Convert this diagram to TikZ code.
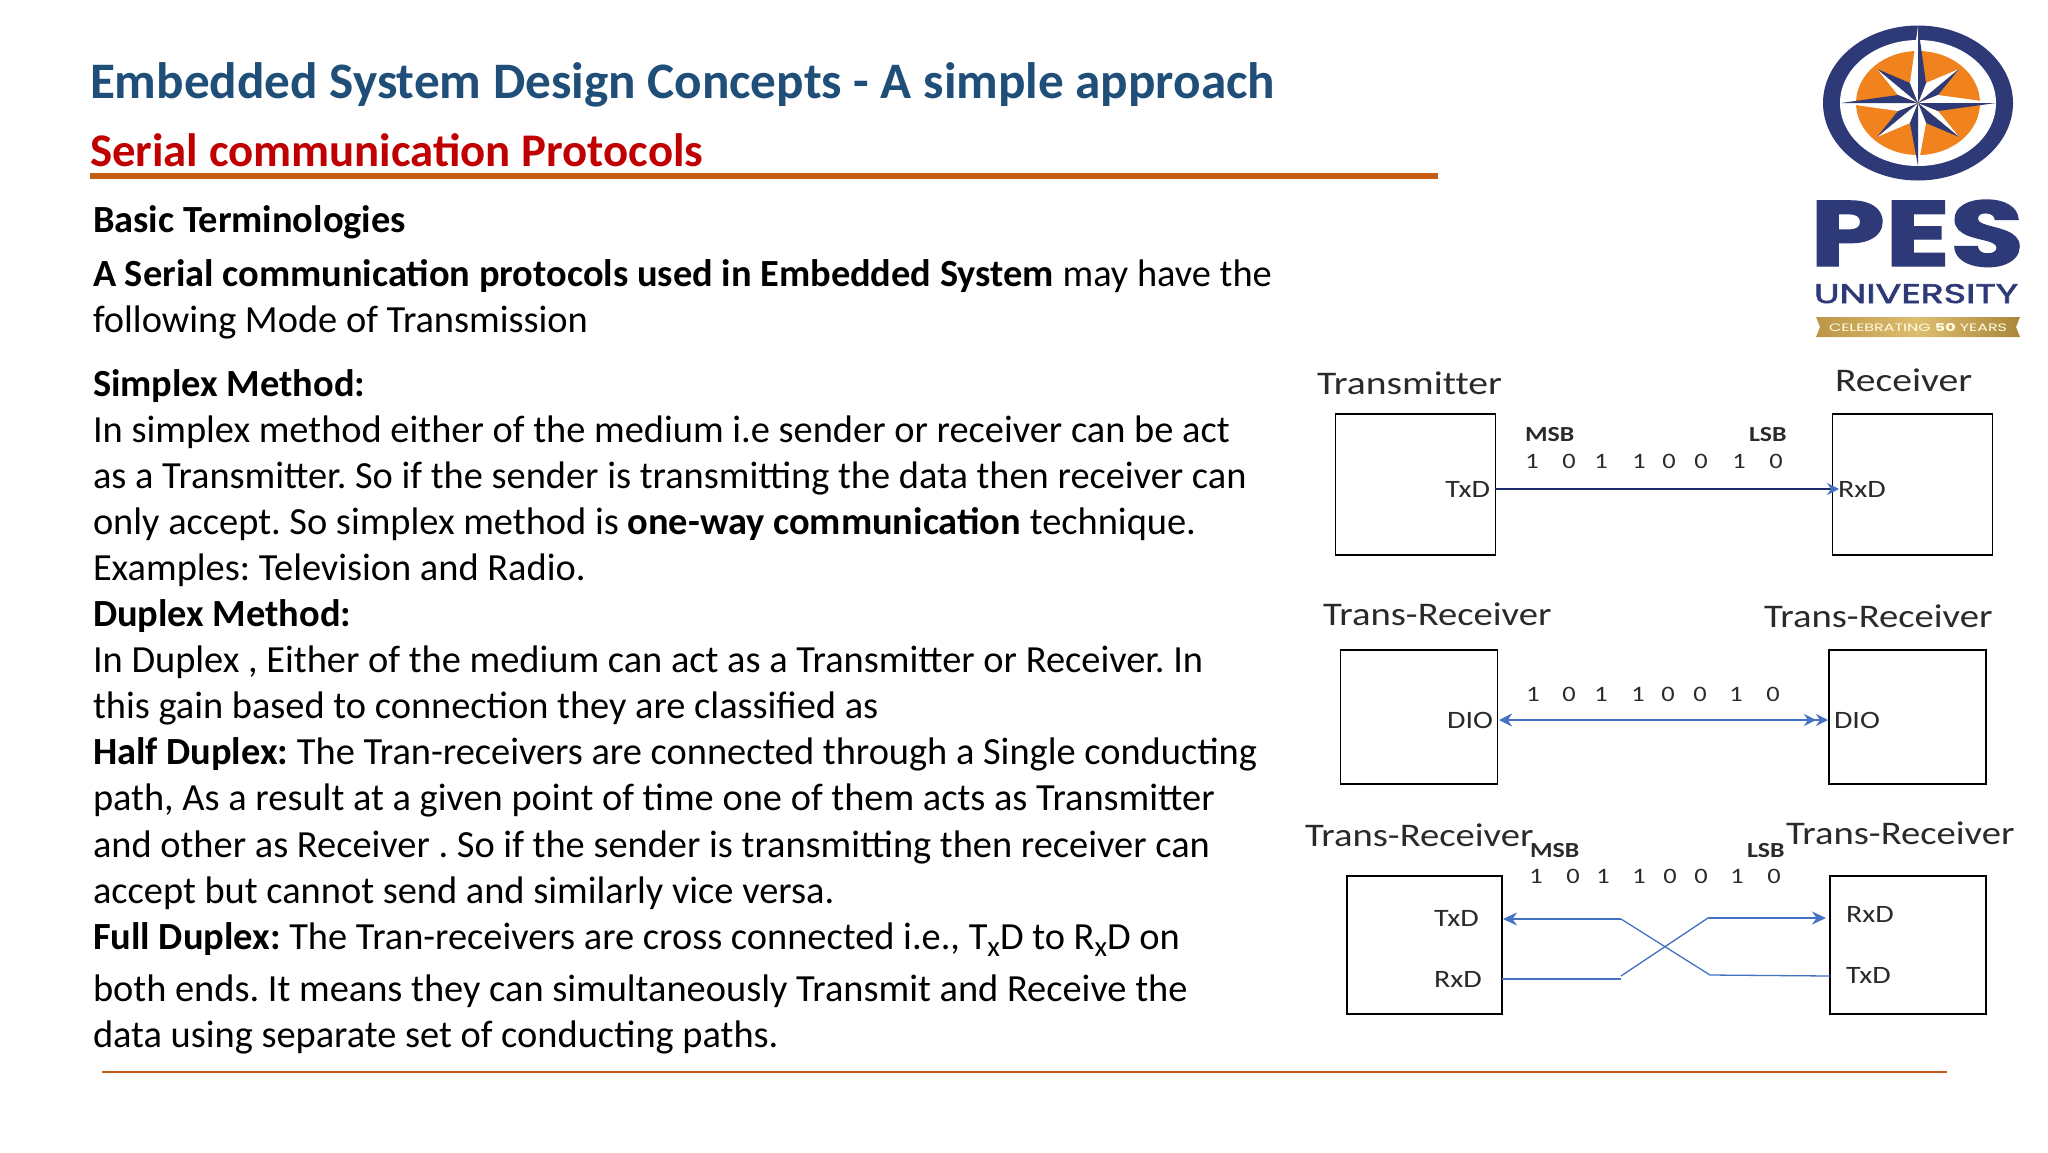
\documentclass[tikz,border=0pt]{standalone}
\usepackage{fontspec}
\usepackage{graphicx}
\usetikzlibrary{arrows.meta}
\setmainfont{Carlito}
\newfontfamily\diafont[Ligatures=NoCommon,FakeStretch=1.17]{Carlito}
\newfontfamily\diawide[Ligatures=NoCommon,FakeStretch=1.2]{Carlito}
\newfontfamily\pesfont[FakeBold=1.5]{Poppins}
\newfontfamily\uniifont[FakeBold=2]{Poppins}
\newfontfamily\celfont{Poppins}
\frenchspacing
\definecolor{titleblue}{HTML}{1F4E79}
\definecolor{subred}{HTML}{C00000}
\definecolor{rulebrown}{HTML}{C55A11}
\definecolor{navy}{HTML}{2E3A78}
\definecolor{wireblue}{HTML}{4472C4}
\definecolor{wirenavy}{HTML}{1F2A6B}
\definecolor{logoorange}{HTML}{F0831E}
\definecolor{inkgrey}{HTML}{2A2A2A}
\definecolor{goldl}{HTML}{BC9648}
\definecolor{goldm}{HTML}{DDBD70}
\definecolor{goldr}{HTML}{A98739}
\newcommand{\fs}[1]{\fontsize{#1}{#1}\selectfont}
\newcommand{\subx}{\raisebox{-7pt}{\fs{29}x}}
\tikzset{
  line/.style={anchor=base west,inner sep=0pt,outer sep=0pt,font=\fs{38.4},text=black},
  box/.style={draw=black,line width=1.5pt,inner sep=0pt,outer sep=0pt,fill=white},
  dlabel/.style={inner sep=0pt,outer sep=0pt,text=inkgrey,font=\diafont\fs{33}},
  dwide/.style={inner sep=0pt,outer sep=0pt,text=inkgrey,font=\diawide\fs{33}},
  port/.style={inner sep=0pt,outer sep=0pt,text=inkgrey,font=\diawide\fs{25}},
  digit/.style={inner sep=0pt,outer sep=0pt,anchor=base,text=inkgrey,font=\diawide\fs{22}},
  sb/.style={inner sep=0pt,outer sep=0pt,anchor=base west,text=inkgrey,font=\diawide\bfseries\fs{21.5}},
  wire/.style={draw=wireblue,line width=1.3pt},
  wirebold/.style={draw=wireblue,line width=2pt},
}
\begin{document}
\begin{tikzpicture}[x=1pt,y=-1pt]
\useasboundingbox (0,0) rectangle (2048,1152);
\fill[white] (0,0) rectangle (2048,1152);
% headings
\node[line,font=\bfseries\fs{51.2},text=titleblue] (title) at (90,98) {Embedded System Design Concepts - A simple approach};
\node[line,font=\bfseries\fs{46.8},text=subred] (sub) at (90,166.5) {Serial communication Protocols};
\fill[rulebrown] (90,173) rectangle (1438,179);
\fill[rulebrown] (102,1071) rectangle (1947,1073);
% body
\node[line,font=\bfseries\fs{38.4}] (l1) at (93,232.5) {Basic Terminologies};
\node[line] (l2) at (93,286.5) {\textbf{A Serial communication protocols used in Embedded System} may have the};
\node[line] (l3) at (93,332.5) {following Mode of Transmission};
\node[line] (l4) at (93,396.5) {\textbf{Simplex Method:}};
\node[line] (l5) at (93,442.5) {In simplex method either of the medium i.e sender or receiver can be act};
\node[line] (l6) at (93,488.5) {as a Transmitter. So if the sender is transmitting the data then receiver can};
\node[line] (l7) at (93,534.5) {only accept. So simplex method is \textbf{one-way communication} technique.};
\node[line] (l8) at (93,580.5) {Examples: Television and Radio.};
\node[line] (l9) at (93,626.5) {\textbf{Duplex Method:}};
\node[line] (l10) at (93,672.5) {In Duplex , Either of the medium can act as a Transmitter or Receiver. In};
\node[line] (l11) at (93,718.5) {this gain based to connection they are classified as};
\node[line] (l12) at (93,764.5) {\textbf{Half Duplex:} The Tran-receivers are connected through a Single conducting};
\node[line] (l13) at (93,810.5) {path, As a result at a given point of time one of them acts as Transmitter};
\node[line] (l14) at (93,857) {and other as Receiver . So if the sender is transmitting then receiver can};
\node[line] (l15) at (93,903) {accept but cannot send and similarly vice versa.};
\node[line] (l16) at (93,949.5) {\textbf{Full Duplex:} The Tran-receivers are cross connected i.e., T\subx D to R\subx D on};
\node[line] (l17) at (93,1001) {both ends. It means they can simultaneously Transmit and Receive the};
\node[line] (l18) at (93,1047) {data using separate set of conducting paths.};
% logo
\fill[navy] (1918,103) ellipse [x radius=95,y radius=77.5];
\fill[white] (1918,103) ellipse [x radius=78,y radius=63];
\fill[logoorange] (1918,103) ellipse [x radius=62,y radius=52];
\begin{scope}[shift={(1918,103)}]
\foreach \tx/\ty/\lx/\ly/\rx/\ry in {41/-34/8/-20/20/-8, 41/34/20/8/8/20, -41/34/-8/20/-20/8, -41/-34/-20/-8/-8/-20,
  0/-77/-8/-20/8/-20, 78/0/20/-8/20/8, 0/63/8/20/-8/20, -77/0/-20/8/-20/-8}{
  \fill[white] (0,0) -- (\lx,\ly) -- (\tx,\ty) -- cycle;
  \fill[navy] (0,0) -- (\rx,\ry) -- (\tx,\ty) -- cycle;
}
\fill[gray] (0,0) circle (2);
\end{scope}
\node[inner sep=0pt,outer sep=0pt,anchor=north west,text=navy] (pes) at (1810,200) {\resizebox{214pt}{66pt}{\pesfont\bfseries PES}};
\node[inner sep=0pt,outer sep=0pt,anchor=north west,text=navy] (uni) at (1814,284) {\resizebox{204pt}{19pt}{\uniifont UNIVERSITY}};
\shade[left color=goldl,right color=goldr,middle color=goldm]
  (1816,317) -- (2020,317) -- (2016,327) -- (2020,337) -- (1816,337) -- (1820,327) -- cycle;
\node[inner sep=0pt,outer sep=0pt,anchor=north west,text=white!90!yellow] (cel) at (1829,323) {\resizebox{178pt}{8pt}{\celfont CELEBRATING {\bfseries 50} YEARS}};
% diagram 1
\node[box,minimum width=160pt,minimum height=141pt] (boxA) at (1415.5,484.5) {};
\node[box,minimum width=160pt,minimum height=141pt] (boxB) at (1912.5,484.5) {};
\node[dwide,anchor=base west] (tA) at (1317,394) {Transmitter};
\node[dwide,anchor=base west] (tB) at (1835,391) {Receiver};
\node[sb] (msb1) at (1525,441) {MSB};
\node[sb] (lsb1) at (1749,441) {LSB};
\foreach \n/\x/\d in {a/1532/1,b/1569/0,c/1601/1,d/1639/1,e/1669/0,f/1701/0,g/1739/1,h/1776/0}{
  \node[digit] (da\n) at (\x,468) {\d};}
\node[port,anchor=base east] (txdA) at (1490,497) {TxD};
\node[port,anchor=base west] (rxdB) at (1838,497) {RxD};
\coordinate (a1) at (1495,489);
\coordinate (b1) at (1839,489);
\draw[draw=wirenavy,line width=1.5pt,-{Stealth[length=12pt,width=12pt,color=wireblue]}] (a1) -- (b1);
% diagram 2
\node[box,minimum width=157pt,minimum height=134pt] (boxC) at (1419,717) {};
\node[box,minimum width=157pt,minimum height=134pt] (boxD) at (1907.5,717) {};
\node[dlabel,anchor=base west] (tC) at (1323,625) {Trans-Receiver};
\node[dlabel,anchor=base west] (tD) at (1764,627) {Trans-Receiver};
\foreach \n/\x/\d in {a/1533/1,b/1569/0,c/1601/1,d/1638/1,e/1668/0,f/1700/0,g/1736/1,h/1773/0}{
  \node[digit] (db\n) at (\x,701) {\d};}
\node[port,anchor=base east] (dioC) at (1493,728) {DIO};
\node[port,anchor=base west] (dioD) at (1834,728) {DIO};
\coordinate (c1) at (1499,720);
\coordinate (d1) at (1828,720);
\draw[wirebold,{Stealth[length=13pt,width=13pt]}-{Stealth[length=12pt,width=12pt]Stealth[length=12pt,width=12pt]}] (c1) -- (d1);
% diagram 3
\node[box,minimum width=155pt,minimum height=138pt] (boxE) at (1424.5,945) {};
\node[box,minimum width=156pt,minimum height=138pt] (boxF) at (1908,945) {};
\node[dlabel,anchor=base west] (tE) at (1305,846) {Trans-Receiver};
\node[dlabel,anchor=base west] (tF) at (1786,844) {Trans-Receiver};
\node[sb] (msb3) at (1530,857) {MSB};
\node[sb] (lsb3) at (1747,857) {LSB};
\foreach \n/\x/\d in {a/1536/1,b/1573/0,c/1603/1,d/1639/1,e/1670/0,f/1701/0,g/1737/1,h/1774/0}{
  \node[digit] (dc\n) at (\x,883) {\d};}
\node[port,anchor=base west] (txdE) at (1434,926) {TxD};
\node[port,anchor=base west] (rxdE) at (1434,987) {RxD};
\node[port,anchor=base west] (rxdF) at (1846,922) {RxD};
\node[port,anchor=base west] (txdF) at (1846,983) {TxD};
\coordinate (e1) at (1503,919);
\coordinate (e2) at (1502,979);
\coordinate (f1) at (1826,918);
\coordinate (f2) at (1830,976);
\coordinate (x1) at (1621,919);
\coordinate (x2) at (1710,975);
\coordinate (x3) at (1621,976);
\coordinate (x4) at (1708,918);
\coordinate (x5) at (1621,979);
\draw[wirebold,{Stealth[length=14pt,width=13pt]}-] (e1) -- (x1);
\draw[wire] (x1) -- (x2) -- (f2);
\draw[wire] (x3) -- (x4);
\draw[wirebold,-{Stealth[length=14pt,width=13pt]}] (x4) -- (f1);
\draw[wire] (e2) -- (x5);
\end{tikzpicture}
\end{document}
